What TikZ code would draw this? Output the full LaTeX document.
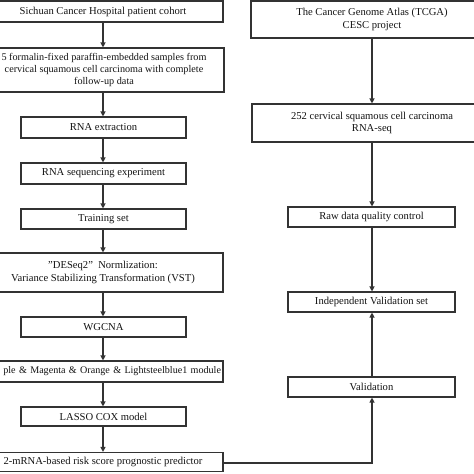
\documentclass[tikz,border=0pt]{standalone}
\usepackage{fontspec}
\setmainfont{Liberation Serif}
\usetikzlibrary{arrows.meta}
\definecolor{lineg}{HTML}{333333}
\definecolor{textg}{HTML}{141414}
\tikzset{
  box/.style={draw=lineg, line width=1.1pt, fill=white, inner sep=0pt, align=center,
    font=\fontsize{10.6}{12.4}\selectfont, text=textg},
  flow/.style={draw=lineg, line width=1.1pt, -{Triangle[length=5pt,width=5pt]}},
}
\begin{document}
\begin{tikzpicture}[x=1pt,y=-1pt]
\useasboundingbox (0,0) rectangle (474,474);
\clip (0,0) rectangle (474,474);
% left column
\node[box, minimum width=240, minimum height=21] (b1) at (103,11.5) {Sichuan Cancer Hospital patient cohort};
\node[box, minimum width=240, minimum height=44, font=\fontsize{10.2}{12.4}\selectfont] (b2) at (104,70) {5 formalin-fixed paraffin-embedded samples from\\cervical squamous cell carcinoma with complete\\follow-up data};
\node[box, minimum width=165, minimum height=21] (b3) at (103.5,127.5) {RNA extraction};
\node[box, minimum width=165, minimum height=21] (b4) at (103.5,173.5) {RNA sequencing experiment};
\node[box, minimum width=165, minimum height=20] (b5) at (103.5,219) {Training set};
\node[box, minimum width=240, minimum height=39] (b6) at (103,272.5) {\char"201D DESeq2\char"201D\ \ Normlization:\\Variance Stabilizing Transformation (VST)};
\node[box, minimum width=165, minimum height=20] (b7) at (103.5,327) {WGCNA};
\node[box, minimum height=21, text width=236, inner xsep=2pt, align=right, font=\fontsize{10.1}{12.4}\selectfont] (b8) at (103,371.5) {ple \& Magenta \& Orange \& Lightsteelblue1 module};
\node[box, minimum width=165, minimum height=19] (b9) at (103.5,416.5) {LASSO COX model};
\node[box, minimum width=240, minimum height=19] (b10) at (103,462) {2-mRNA-based risk score prognostic predictor};
% right column
\node[box, minimum width=242, minimum height=37] (r1) at (372,19.5) {The Cancer Genome Atlas (TCGA)\\CESC project};
\node[box, minimum width=240, minimum height=38] (r2) at (372,123) {252 cervical squamous cell carcinoma\\RNA-seq};
\node[box, minimum width=167, minimum height=20] (r3) at (371.5,217) {Raw data quality control};
\node[box, minimum width=167, minimum height=20] (r4) at (371.5,302) {Independent Validation set};
\node[box, minimum width=167, minimum height=20] (r5) at (371.5,387) {Validation};
\coordinate (corner) at (372,463);
% connectors
\draw[flow] (b1.south -| 103,0) -- (b2.north -| 103,0);
\draw[flow] (b2.south -| 103,0) -- (b3.north -| 103,0);
\draw[flow] (b3.south -| 103,0) -- (b4.north -| 103,0);
\draw[flow] (b4.south -| 103,0) -- (b5.north -| 103,0);
\draw[flow] (b5.south -| 103,0) -- (b6.north -| 103,0);
\draw[flow] (b6.south -| 103,0) -- (b7.north -| 103,0);
\draw[flow] (b7.south -| 103,0) -- (b8.north -| 103,0);
\draw[flow] (b8.south -| 103,0) -- (b9.north -| 103,0);
\draw[flow] (b9.south -| 103,0) -- (b10.north -| 103,0);
\draw[flow] (r1.south -| corner) -- (r2.north -| corner);
\draw[flow] (r2.south -| corner) -- (r3.north -| corner);
\draw[flow] (r3.south -| corner) -- (r4.north -| corner);
\draw[flow] (r5.north -| corner) -- (r4.south -| corner);
\draw[flow] (b10.east |- corner) -- (corner) -- (r5.south -| corner);
\end{tikzpicture}
\end{document}
